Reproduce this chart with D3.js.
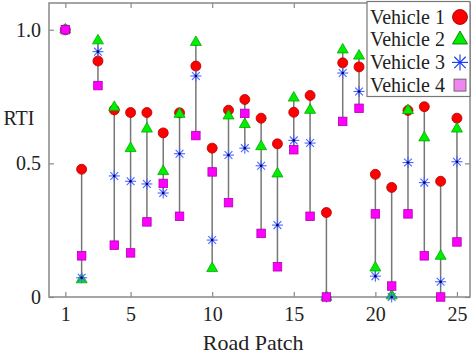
<!DOCTYPE html>
<html>
<head>
<meta charset="utf-8">
<script src="https://cdn.jsdelivr.net/npm/d3@7"></script>
</head>
<body style="margin:0; background:#fff">
<div id="chart"></div>
<script>
// RTI per road patch, one array per vehicle
var patches = d3.range(1, 26);
var vehicle1 = [1.0, 0.478, 0.883, 0.700, 0.690, 0.690, 0.614, 0.689, 0.864, 0.557, 0.699, 0.739, 0.669, 0.573, 0.691, 0.754, 0.316, 0.876, 0.861, 0.459, 0.410, 0.698, 0.712, 0.433, 0.669];
var vehicle2 = [1.0, 0.065, 0.959, 0.710, 0.556, 0.629, 0.470, 0.684, 0.953, 0.107, 0.678, 0.646, 0.563, 0.461, 0.745, 0.699, 0.0, 0.925, 0.902, 0.109, 0.005, 0.698, 0.596, 0.153, 0.629];
var vehicle3 = [1.0, 0.072, 0.918, 0.453, 0.433, 0.423, 0.389, 0.536, 0.827, 0.213, 0.531, 0.557, 0.491, 0.269, 0.586, 0.576, 0.0, 0.838, 0.769, 0.078, 0.0, 0.503, 0.428, 0.057, 0.506];
var vehicle4 = [1.0, 0.154, 0.791, 0.194, 0.165, 0.281, 0.425, 0.302, 0.604, 0.468, 0.353, 0.687, 0.238, 0.113, 0.551, 0.302, 0.0, 0.657, 0.706, 0.311, 0.041, 0.311, 0.154, 0.0, 0.206];
var seriesNames = ["Vehicle 1", "Vehicle 2", "Vehicle 3", "Vehicle 4"];
var xTicks = [1, 5, 10, 15, 20, 25];
var yTicks = [0, 0.5, 1.0];

var svgWidth = 474, svgHeight = 354;
var frame = { left: 49, right: 470, top: 3, bottom: 297 };
var serif = "'Liberation Serif'";

var svg = d3.select("#chart").append("svg")
  .attr("width", svgWidth)
  .attr("height", svgHeight);

var x = d3.scaleLinear().domain([0, 25.8]).range([frame.left, frame.right]);
var y = d3.scaleLinear().domain([0, 1.1]).range([frame.bottom, frame.top]);

var rows = patches.map(function(p, i) {
  return { p: p, v: [vehicle1[i], vehicle2[i], vehicle3[i], vehicle4[i]] };
});

// axes: ticks point inward, on all four sides
var tickLen = 5;
var axisColor = "#888";
svg.append("g").attr("transform", `translate(0,${frame.bottom})`)
  .call(d3.axisBottom(x).tickValues(xTicks).tickSize(-tickLen).tickPadding(10).tickFormat(d3.format("d")))
  .call(g => g.select(".domain").remove());
svg.append("g").attr("transform", `translate(0,${frame.top})`)
  .call(d3.axisTop(x).tickValues(xTicks).tickSize(-tickLen).tickFormat(""))
  .call(g => g.select(".domain").remove());
svg.append("g").attr("transform", `translate(${frame.left},0)`)
  .call(d3.axisLeft(y).tickValues(yTicks).tickSize(-tickLen).tickPadding(8)
    .tickFormat(d => d === 0 ? "0" : d3.format(".1f")(d)))
  .call(g => g.select(".domain").remove());
svg.append("g").attr("transform", `translate(${frame.right},0)`)
  .call(d3.axisRight(y).tickValues(yTicks).tickSize(-tickLen).tickFormat(""))
  .call(g => g.select(".domain").remove());

svg.selectAll(".tick line").attr("stroke", axisColor).attr("stroke-width", 1.2);
svg.selectAll(".tick text").style("font-family", serif).style("font-size", "20px").attr("fill", "#222");

svg.append("rect")
  .attr("x", frame.left).attr("y", frame.top)
  .attr("width", frame.right - frame.left).attr("height", frame.bottom - frame.top)
  .attr("fill", "none").attr("stroke", axisColor).attr("stroke-width", 1.5);

// axis labels
svg.append("text").attr("x", 19).attr("y", 125).attr("text-anchor", "middle")
  .style("font-family", serif).style("font-size", "20px").attr("fill", "#222").text("RTI");
svg.append("text").attr("x", (x(1) + x(25)) / 2 - 8).attr("y", 350).attr("text-anchor", "middle")
  .style("font-family", serif).style("font-size", "22px").attr("fill", "#222").text("Road Patch");

// vertical range lines
svg.selectAll(".range").data(rows).enter().append("line")
  .attr("class", "range")
  .attr("x1", d => x(d.p)).attr("x2", d => x(d.p))
  .attr("y1", d => y(d3.max(d.v))).attr("y2", d => y(d3.min(d.v)))
  .attr("stroke", "#777").attr("stroke-width", 1.5);

// marker drawing helpers
function drawCircle(g, r, fill, stroke) {
  g.append("circle").attr("r", r).attr("fill", fill).attr("stroke", stroke).attr("stroke-width", 0.8);
}
function drawTriangle(g, s, fill, stroke) {
  var h = s * Math.sqrt(3) / 2;
  g.append("path").attr("d", `M0,${-h * 2 / 3}L${s / 2},${h / 3}L${-s / 2},${h / 3}Z`)
    .attr("fill", fill).attr("stroke", stroke).attr("stroke-width", 0.8);
}
function drawStar(g, r, color, center) {
  [0, 45, 90, 135].forEach(function(a) {
    var rad = a * Math.PI / 180;
    g.append("line")
      .attr("x1", -r * Math.cos(rad)).attr("y1", -r * Math.sin(rad))
      .attr("x2", r * Math.cos(rad)).attr("y2", r * Math.sin(rad))
      .attr("stroke", color).attr("stroke-width", 1.1);
  });
  if (center) g.append("circle").attr("r", 1.3).attr("fill", center);
}
function drawSquare(g, s, fill, stroke) {
  g.append("rect").attr("x", -s / 2).attr("y", -s / 2).attr("width", s).attr("height", s)
    .attr("fill", fill).attr("stroke", stroke).attr("stroke-width", 0.8);
}

var plotMarkers = [
  g => drawCircle(g, 5, "#f00", "#b00000"),
  g => drawTriangle(g, 11, "#0e0", "#0a0"),
  g => drawStar(g, 5.5, "#4a66ff", "#000066"),
  g => drawSquare(g, 8.5, "#f0f", "#b000b0")
];

[0, 1, 2, 3].forEach(function(k) {
  svg.selectAll(".m" + k).data(rows).enter().append("g")
    .attr("class", "m" + k)
    .attr("transform", d => `translate(${x(d.p)},${y(d.v[k])})`)
    .each(function() { plotMarkers[k](d3.select(this)); });
});

// legend
var legend = svg.append("g");
legend.append("rect").attr("x", 367).attr("y", 1.5).attr("width", 103).attr("height", 95)
  .attr("fill", "#fff").attr("stroke", "#777").attr("stroke-width", 1.2);

var legendMarkers = [
  g => drawCircle(g, 7.5, "#f00", "#800"),
  g => drawTriangle(g, 15, "#0e0", "#060"),
  g => drawStar(g, 8, "#1133ff", null),
  g => drawSquare(g, 12, "#ee88ee", "#555")
];
seriesNames.forEach(function(name, i) {
  var yy = 17 + i * 22.7;
  legend.append("text").attr("x", 370).attr("y", yy + 6.5)
    .style("font-family", serif).style("font-size", "20px").attr("fill", "#222").text(name);
  var mg = legend.append("g").attr("transform", `translate(460,${yy})`);
  legendMarkers[i](mg);
});
</script>
</body>
</html>
